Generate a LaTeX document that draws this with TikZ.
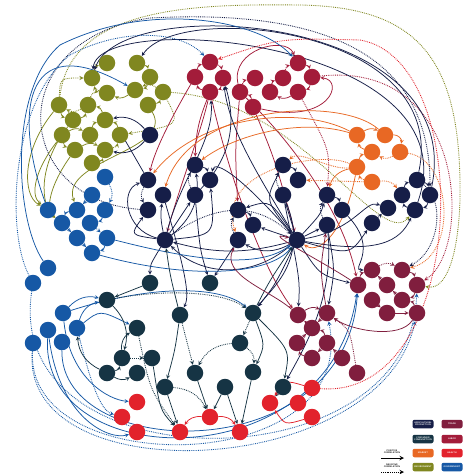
\documentclass[tikz,border=0pt]{standalone}
\usepackage{tikz}
\definecolor{olv}{RGB}{128,135,32}
\definecolor{crm}{RGB}{163,28,58}
\definecolor{org}{RGB}{232,104,36}
\definecolor{nvy}{RGB}{22,30,72}
\definecolor{tel}{RGB}{22,52,68}
\definecolor{blu}{RGB}{22,88,165}
\definecolor{brg}{RGB}{128,30,62}
\definecolor{rd}{RGB}{226,34,44}
\pgfdeclarelayer{edges}
\pgfsetlayers{edges,main}

\begin{document}
\begin{tikzpicture}[>=stealth, x=1pt, y=-1pt,
    bub/.style={circle, fill=#1, minimum size=16.5pt, inner sep=0pt},
    posl/.style={draw=#1, line width=.75pt, ->},
    negl/.style={draw=#1, line width=.85pt, densely dotted, ->},
    keyb/.style={rounded corners=2pt, fill=#1, minimum width=21pt, minimum height=8.5pt,
        inner sep=0pt, text=white, align=center, font=\sffamily\bfseries\fontsize{2.2}{2.4}\selectfont}]
    \useasboundingbox (0,0) rectangle (474,474);
    % clusters
    \foreach \n/\x/\y in {o1/107/63, o2/92/78, o3/137/63, o4/150/77, o5/107/93, o6/135/90, o7/163/92, o8/148/105,
        o9/59/105, o10/88/105, o11/73/120, o12/105/120, o13/90/135, o14/120/135, o15/62/135, o16/105/150,
        o17/75/150, o18/92/163}
        \node[bub=olv] (\n) at (\x,\y) {};
    \foreach \n/\x/\y in {c1/210/62, c2/195/77, c3/223/78, c4/210/92, c5/240/92, c6/253/107, c7/255/78,
        c8/298/63, c9/283/78, c10/312/77, c11/270/92, c12/298/92}
        \node[bub=crm] (\n) at (\x,\y) {};
    \foreach \n/\x/\y in {or1/357/135, or2/385/135, or3/372/152, or4/400/152, or5/357/167, or6/372/182}
        \node[bub=org] (\n) at (\x,\y) {};
    \foreach \n/\x/\y in {n1/150/135, n2/148/180, n3/163/195, n4/148/210, n5/165/240, n6/195/165, n7/210/180,
        n8/195/195, n9/238/210, n10/253/225, n11/238/240, n12/283/165, n13/298/180, n14/283/195, n15/297/240,
        n16/327/195, n17/342/210, n18/327/225, n19/372/223, n20/388/208, n21/402/195, n22/417/180,
        n23/430/195, n24/415/210}
        \node[bub=nvy] (\n) at (\x,\y) {};
    \foreach \n/\x/\y in {t1/150/283, t2/210/283, t3/107/300, t4/180/315, t5/253/313, t6/137/328, t7/240/343,
        t8/122/358, t9/152/358, t10/107/373, t11/137/373, t12/195/373, t13/253/372, t14/165/387,
        t15/225/387, t16/283/387}
        \node[bub=tel] (\n) at (\x,\y) {};
    \foreach \n/\x/\y in {b1/105/177, b2/92/195, b3/48/210, b4/77/210, b5/105/210, b6/62/223, b7/90/223,
        b8/77/238, b9/107/238, b10/92/253, b11/48/268, b12/33/283, b13/63/313, b14/48/330, b15/77/328,
        b16/33/343, b17/62/342}
        \node[bub=blu] (\n) at (\x,\y) {};
    \foreach \n/\x/\y in {m1/372/270, m2/402/270, m3/358/285, m4/387/285, m5/417/285, m6/372/300, m7/402/300,
        m8/387/313, m9/417/313, m10/298/315, m11/327/313, m12/312/328, m13/297/343, m14/327/343,
        m15/312/358, m16/342/358, m17/357/373}
        \node[bub=brg] (\n) at (\x,\y) {};
    \foreach \n/\x/\y in {d1/137/402, d2/122/417, d3/137/432, d4/210/417, d5/180/432, d6/240/432,
        d7/270/403, d8/298/403, d9/312/388, d10/312/417}
        \node[bub=rd] (\n) at (\x,\y) {};

    % legend
    \node[keyb=nvy] (k1) at (423,424) {AGRICULTURAL\\PRODUCTION};
    \node[keyb=brg] (k2) at (452,424) {TRADE};
    \node[keyb=tel] (k3) at (423,439) {CONSUMER\\CONSUMPTION};
    \node[keyb=crm] (k4) at (452,439) {LABOR};
    \node[keyb=org] (k5) at (423,453) {MARKET};
    \node[keyb=rd] (k6) at (452,453) {HEALTH};
    \node[keyb=olv] (k7) at (423,467) {ENVIRONMENT};
    \node[keyb=blu] (k8) at (452,467) {GOVERNMENT};
    \node[font=\sffamily\bfseries\fontsize{2.2}{2.4}\selectfont, align=center] (kp) at (392,452) {POSITIVE\\CORRELATION};
    \node[font=\sffamily\bfseries\fontsize{2.2}{2.4}\selectfont, align=center] (kn) at (392,466) {NEGATIVE\\CORRELATION};
    \coordinate (kp1) at (381,458); \coordinate (kp2) at (404,458);
    \coordinate (kn1) at (381,472); \coordinate (kn2) at (404,472);

    \begin{pgfonlayer}{edges}
    \fill[white] (0,0) rectangle (474,474);
    \draw[posl=black, line width=1pt] (kp1) -- (kp2);
    \draw[negl=black, line width=1pt] (kn1) -- (kn2);

    % environment
    \draw[posl=olv] (o2) to[bend left] (o1);
    \draw[negl=olv] (o5) to[bend left] (o2);
    \draw[posl=olv] (o3) to[bend left] (o4);
    \draw[negl=olv] (o4) to[bend left] (o6);
    \draw[posl=olv] (o6) to[bend left] (o5);
    \draw[posl=olv] (o8) to[bend right] (o7);
    \draw[negl=olv] (o7) to[bend right] (o6);
    \draw[negl=olv] (o10) to[bend left] (o9);
    \draw[posl=olv] (o9) to[bend right] (o11);
    \draw[posl=olv] (o11) to[bend right] (o10);
    \draw[posl=olv] (o12) to[bend right] (o10);
    \draw[negl=olv] (o10) to[bend left=40] (o5);
    \draw[posl=olv] (o13) to[bend left] (o12);
    \draw[posl=olv] (o14) to[bend right] (o12);
    \draw[posl=olv] (o15) to[bend left] (o13);
    \draw[posl=olv] (o17) to[bend left] (o16);
    \draw[negl=olv] (o16) to[bend right] (o14);
    \draw[negl=olv] (o18) to[bend right] (o16);
    \draw[negl=olv] (o15) to[bend right] (o17);
    \draw[negl=olv] (o9) .. controls (60,78) .. (o2);
    \draw[negl=olv] (o7) .. controls (180,125) .. (o14);
    \draw[posl=olv] (o15) .. controls (35,170) and (30,195) .. (b3);
    \draw[posl=olv] (o17) .. controls (50,185) and (45,210) .. (b6);
    \draw[posl=olv] (o9) .. controls (22,150) and (22,195) .. (b3);
    \draw[posl=olv] (o11) .. controls (38,165) and (40,205) .. (b6);
    \draw[posl=olv] (o8) .. controls (175,150) and (60,160) .. (b4);
    \draw[negl=olv] (o9) .. controls (70,5) and (200,4) .. (300,5) .. controls (420,7) and (462,60) .. (460,200)
        .. controls (458,260) and (445,290) .. (m5);
    \draw[negl=olv] (o7) .. controls (300,100) and (380,250) .. (n24);

    % labor
    \draw[posl=crm] (c2) to[bend left] (c1);
    \draw[negl=crm] (c1) to[bend left] (c3);
    \draw[posl=crm] (c4) to[bend left] (c2);
    \draw[posl=crm] (c3) to[bend left] (c4);
    \draw[negl=crm] (c5) to[bend left] (c7);
    \draw[posl=crm] (c6) to[bend right] (c5);
    \draw[negl=crm] (c9) to[bend left] (c8);
    \draw[posl=crm] (c8) to[bend left] (c10);
    \draw[posl=crm] (c10) to[bend left] (c12);
    \draw[posl=crm] (c12) to[bend left] (c11);
    \draw[negl=crm] (c11) to[bend left] (c9);
    \draw[posl=crm] (c5) .. controls (230,50) and (285,35) .. (c8);
    \draw[posl=crm] (c6) .. controls (330,125) and (345,80) .. (c10);
    \draw[posl=crm] (c4) .. controls (200,135) and (180,185) .. (n5);
    \draw[posl=crm] (c2) .. controls (170,120) and (155,150) .. (n2);
    \draw[posl=crm] (c4) to[bend right=10] (n6);
    \draw[posl=crm] (c5) .. controls (235,150) .. (n9);
    \draw[posl=crm] (c6) .. controls (275,160) .. (n15);
    \draw[posl=crm] (c4) .. controls (235,200) and (270,280) .. (m10);
    \draw[posl=crm] (c5) .. controls (300,150) and (345,220) .. (m3);
    \draw[negl=crm] (c12) .. controls (330,150) .. (n16);
    \draw[negl=crm] (c10) .. controls (468,60) and (472,250) .. (m5);

    % market
    \draw[posl=org] (or1) to[bend left] (or2);
    \draw[posl=org] (or3) to[bend left] (or1);
    \draw[negl=org] (or4) to[bend left] (or3);
    \draw[posl=org] (or5) to[bend left] (or3);
    \draw[negl=org] (or6) to[bend left] (or5);
    \draw[posl=org] (or2) to[bend left=50] (or4);
    \draw[posl=org] (or1) .. controls (300,105) and (200,115) .. (n2);
    \draw[posl=org] (or1) .. controls (300,118) and (235,135) .. (n6);
    \draw[posl=org] (or2) .. controls (340,95) and (190,105) .. (n3);
    \draw[negl=org] (or5) .. controls (320,150) and (215,170) .. (n11);
    \draw[posl=org] (or5) to[bend right] (n16);
    \draw[negl=org] (or5) .. controls (330,170) and (300,150) .. (n12);
    \draw[negl=org] (or6) to (n13);
    \draw[posl=org] (or5) .. controls (345,230) and (320,255) .. (n15);
    \draw[negl=org] (or6) to[bend left] (n21);
    \draw[negl=org] (or4) .. controls (452,160) and (458,255) .. (m2);

    % agricultural production
    \draw[posl=nvy] (n1) to[bend right] (o12);
    \draw[posl=nvy] (n1) to[bend left] (o16);
    \draw[posl=nvy] (n2) .. controls (125,140) .. (o14);
    \draw[posl=nvy] (n5) .. controls (125,230) and (120,190) .. (n2);
    \draw[posl=nvy] (n5) to[bend left=10] (n3);
    \draw[posl=nvy] (n5) .. controls (130,235) .. (n4);
    \draw[posl=nvy] (n5) to[bend right] (n6);
    \draw[posl=nvy] (n5) .. controls (215,235) .. (n7);
    \draw[posl=nvy] (n5) to (n8);
    \draw[negl=nvy] (n2) to[bend right] (n4);
    \draw[posl=nvy] (n6) to[bend left] (n7);
    \draw[negl=nvy] (n8) to[bend left] (n6);
    \draw[posl=nvy] (n9) to[bend left] (n10);
    \draw[negl=nvy] (n11) to[bend left] (n9);
    \draw[posl=nvy] (n15) .. controls (270,200) .. (n9);
    \draw[posl=nvy] (n15) to[bend left] (n11);
    \draw[posl=nvy] (n15) to (n10);
    \draw[posl=nvy] (n12) to[bend left] (n13);
    \draw[negl=nvy] (n14) to[bend left] (n12);
    \draw[posl=nvy] (n15) to (n14);
    \draw[posl=nvy] (n15) .. controls (265,200) .. (n12);
    \draw[posl=nvy] (n16) to[bend left] (n17);
    \draw[negl=nvy] (n18) to[bend left] (n16);
    \draw[posl=nvy] (n15) to (n18);
    \draw[posl=nvy] (n15) .. controls (320,215) .. (n16);
    \draw[posl=nvy] (n21) to[bend left] (n22);
    \draw[negl=nvy] (n22) to[bend left] (n23);
    \draw[posl=nvy] (n24) to[bend left] (n21);
    \draw[posl=nvy] (n23) to[bend left] (n24);
    \draw[negl=nvy] (n19) to (n20);
    \draw[posl=nvy] (n15) .. controls (350,255) .. (n19);
    \draw[posl=nvy] (n15) .. controls (380,255) and (400,240) .. (n24);
    \draw[posl=nvy] (n15) .. controls (355,230) and (365,200) .. (n20);
    \draw[posl=nvy] (n15) .. controls (250,280) and (200,275) .. (n5);
    \draw[posl=nvy] (n15) to[bend left=15] (n5);
    \draw[negl=nvy] (n5) .. controls (220,200) and (260,205) .. (n15);
    \draw[posl=nvy] (n15) .. controls (240,175) and (215,160) .. (n7);
    \draw[posl=nvy] (n5) .. controls (180,180) and (215,140) .. (c4);
    \draw[posl=nvy] (n15) .. controls (255,170) and (230,130) .. (c3);
    \draw[posl=nvy] (n8) to[bend right] (c3);
    \draw[posl=nvy] (n22) .. controls (450,28) and (180,0) .. (o3);
    \draw[posl=nvy] (n23) .. controls (468,12) and (120,-8) .. (o2);
    \draw[posl=nvy] (n24) .. controls (475,40) and (100,8) .. (o2);
    \draw[negl=nvy] (n4) .. controls (12,200) and (0,40) .. (150,18) .. controls (300,10) and (430,40) .. (n23);
    \draw[negl=nvy] (n22) .. controls (445,200) and (440,250) .. (m2);
    \draw[posl=nvy] (n5) .. controls (150,265) .. (t1);
    \draw[posl=nvy] (n8) .. controls (200,250) .. (t2);
    \draw[posl=nvy] (n11) to (t2);
    \draw[posl=nvy] (n3) .. controls (185,270) and (190,295) .. (t4);
    \draw[posl=nvy] (n15) .. controls (275,285) .. (t5);
    \draw[posl=nvy] (n14) .. controls (310,260) and (270,290) .. (t5);
    \draw[posl=nvy] (n18) .. controls (335,300) and (300,355) .. (t16);
    \draw[posl=nvy] (n15) .. controls (320,275) .. (m3);
    \draw[posl=nvy] (n18) .. controls (335,270) .. (m11);
    \draw[posl=nvy] (n14) .. controls (300,280) .. (m10);
    \draw[posl=nvy] (n17) .. controls (380,250) and (350,270) .. (m1);

    % government
    \draw[negl=blu] (b2) to (b4);
    \draw[posl=blu] (b4) to[bend right] (b6);
    \draw[posl=blu] (b5) to[bend left] (b7);
    \draw[negl=blu] (b1) to[bend left] (b5);
    \draw[negl=blu] (b8) to (b10);
    \draw[posl=blu] (b9) to[bend left] (b10);
    \draw[posl=blu] (b6) to (b8);
    \draw[negl=blu] (b7) to (b9);
    \draw[posl=blu] (b9) .. controls (200,262) and (260,268) .. (n15);
    \draw[posl=blu] (b10) .. controls (190,280) and (270,275) .. (n15);
    \draw[posl=blu] (b11) .. controls (15,220) and (8,90) .. (60,45) .. controls (150,0) and (260,20) .. (c8);
    \draw[negl=blu] (b12) .. controls (5,230) and (12,100) .. (70,55) .. controls (120,28) and (180,30) .. (c1);
    \draw[posl=blu] (b3) .. controls (15,120) and (20,25) .. (o6);
    \draw[posl=blu] (b15) to[bend left] (t3);
    \draw[posl=blu] (b15) .. controls (100,310) .. (t6);
    \draw[posl=blu] (b13) to[bend left] (t3);
    \draw[posl=blu] (b13) .. controls (150,285) and (220,285) .. (t5);
    \draw[posl=blu] (b13) .. controls (70,380) and (110,400) .. (d1);
    \draw[negl=blu] (b15) .. controls (90,380) and (100,410) .. (d2);
    \draw[posl=blu] (b14) .. controls (60,420) and (110,440) .. (d3);
    \draw[posl=blu] (b14) .. controls (40,475) and (330,480) .. (m3);
    \draw[posl=blu] (b17) .. controls (60,462) and (345,470) .. (m3);
    \draw[negl=blu] (b16) .. controls (20,495) and (380,480) .. (m9);
    \draw[negl=blu] (b12) .. controls (2,485) and (410,488) .. (m5);
    \draw[negl=blu] (b16) .. controls (25,482) and (360,478) .. (m11);

    % consumer and consumption
    \draw[posl=tel] (t10) to[bend left] (b15);
    \draw[posl=tel] (t10) to[bend right] (t8);
    \draw[posl=tel] (t8) to[bend left] (t6);
    \draw[posl=tel] (t3) to[bend left] (t8);
    \draw[negl=tel] (t8) to (t9);
    \draw[posl=tel] (t10) to[bend right] (t11);
    \draw[posl=tel] (t1) to (t3);
    \draw[posl=tel] (t4) .. controls (175,350) .. (t14);
    \draw[negl=tel] (t4) to (t12);
    \draw[posl=tel] (t5) .. controls (265,345) .. (t13);
    \draw[posl=tel] (t5) .. controls (290,350) .. (t16);
    \draw[negl=tel] (t5) to (t7);
    \draw[negl=tel] (t7) to[bend right] (t12);
    \draw[negl=tel] (t7) to[bend left] (t13);
    \draw[posl=tel] (t12) to (d4);
    \draw[posl=tel] (t13) to (d6);
    \draw[posl=tel] (t14) to (d5);
    \draw[posl=tel] (t15) to (d4);
    \draw[posl=tel] (t15) to (d6);
    \draw[negl=tel] (t16) to (d7);
    \draw[negl=tel] (t14) to[bend left] (d4);
    \draw[posl=tel] (t9) .. controls (160,410) .. (d5);
    \draw[negl=tel] (t3) .. controls (160,290) and (220,290) .. (t5);
    \draw[posl=tel] (t5) .. controls (270,280) .. (n15);
    \draw[posl=tel] (t4) .. controls (170,275) .. (n5);
    \draw[negl=tel] (t6) .. controls (150,390) .. (d5);

    % health
    \draw[posl=rd] (d4) to[bend right] (d5);
    \draw[posl=rd] (d4) to[bend left] (d6);
    \draw[posl=rd] (d9) .. controls (285,380) .. (d7);
    \draw[posl=rd] (d10) .. controls (285,425) .. (d7);
    \draw[negl=rd] (d9) .. controls (468,400) and (478,60) .. (360,40) .. controls (280,38) .. (c1);

    % trade
    \draw[negl=brg] (m1) to[bend left] (m2);
    \draw[posl=brg] (m3) to[bend left] (m1);
    \draw[posl=brg] (m2) to[bend left] (m5);
    \draw[posl=brg] (m5) to[bend left] (m7);
    \draw[posl=brg] (m7) to (m4);
    \draw[negl=brg] (m6) to (m8);
    \draw[posl=brg] (m8) to (m9);
    \draw[posl=brg] (m9) to[bend right] (m7);
    \draw[posl=brg] (m4) to (m1);
    \draw[posl=brg] (m10) to[bend left] (m11);
    \draw[posl=brg] (m12) to (m10);
    \draw[negl=brg] (m11) to (m12);
    \draw[posl=brg] (m13) to (m12);
    \draw[posl=brg] (m14) to[bend right] (m12);
    \draw[posl=brg] (m15) to[bend left] (m13);
    \draw[negl=brg] (m14) to (m15);
    \draw[negl=brg] (m16) to (m14);
    \draw[negl=brg] (m17) .. controls (350,330) .. (m11);
    \draw[posl=brg] (m9) .. controls (400,340) and (350,330) .. (m11);
    \draw[posl=brg] (m3) .. controls (320,260) and (260,230) .. (n15);
    \draw[posl=brg] (m10) .. controls (270,290) and (220,275) .. (n11);
    \draw[posl=brg] (m11) .. controls (320,270) .. (n18);
    \end{pgfonlayer}
\end{tikzpicture}
\end{document}
